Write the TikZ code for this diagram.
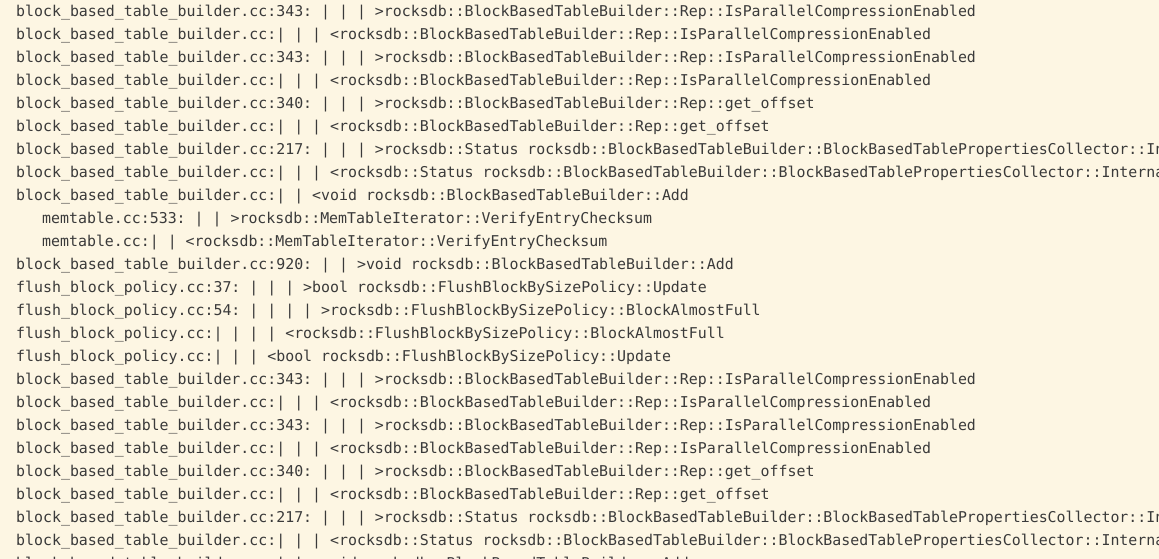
\documentclass[tikz,border=0pt]{standalone}
\usepackage{fontspec}
\setmonofont{DejaVu Sans Mono}
\definecolor{bg}{HTML}{FDF6E3}
\definecolor{fg}{HTML}{3A3A3A}
\begin{document}
\begin{tikzpicture}[x=1pt,y=1pt,ln/.style={anchor=base west,inner sep=0,font=\ttfamily\fontsize{14.9}{16}\selectfont,text=fg}]
\fill[bg] (0,0) rectangle (1159,-559);
\clip (0,0) rectangle (1159,-559);
\def\L#1#2#3#4{\node[ln] (#1) at (#2,{-(#3)-5}) {#4};}
\L{l1}{16}{12}{block\_based\_table\_builder.cc:343: | | | >rocksdb::BlockBasedTableBuilder::Rep::IsParallelCompressionEnabled}
\L{l2}{16}{35}{block\_based\_table\_builder.cc:| | | <rocksdb::BlockBasedTableBuilder::Rep::IsParallelCompressionEnabled}
\L{l3}{16}{58}{block\_based\_table\_builder.cc:343: | | | >rocksdb::BlockBasedTableBuilder::Rep::IsParallelCompressionEnabled}
\L{l4}{16}{81}{block\_based\_table\_builder.cc:| | | <rocksdb::BlockBasedTableBuilder::Rep::IsParallelCompressionEnabled}
\L{l5}{16}{104}{block\_based\_table\_builder.cc:340: | | | >rocksdb::BlockBasedTableBuilder::Rep::get\_offset}
\L{l6}{16}{126.5}{block\_based\_table\_builder.cc:| | | <rocksdb::BlockBasedTableBuilder::Rep::get\_offset}
\L{l7}{16}{149.5}{block\_based\_table\_builder.cc:217: | | | >rocksdb::Status rocksdb::BlockBasedTableBuilder::BlockBasedTablePropertiesCollector::InternalAdd}
\L{l8}{16}{172.5}{block\_based\_table\_builder.cc:| | | <rocksdb::Status rocksdb::BlockBasedTableBuilder::BlockBasedTablePropertiesCollector::InternalAdd}
\L{l9}{16}{195.5}{block\_based\_table\_builder.cc:| | <void rocksdb::BlockBasedTableBuilder::Add}
\L{l10}{42}{218}{memtable.cc:533: | | >rocksdb::MemTableIterator::VerifyEntryChecksum}
\L{l11}{42}{241}{memtable.cc:| | <rocksdb::MemTableIterator::VerifyEntryChecksum}
\L{l12}{16}{264}{block\_based\_table\_builder.cc:920: | | >void rocksdb::BlockBasedTableBuilder::Add}
\L{l13}{16}{287}{flush\_block\_policy.cc:37: | | | >bool rocksdb::FlushBlockBySizePolicy::Update}
\L{l14}{16}{310}{flush\_block\_policy.cc:54: | | | | >rocksdb::FlushBlockBySizePolicy::BlockAlmostFull}
\L{l15}{16}{333}{flush\_block\_policy.cc:| | | | <rocksdb::FlushBlockBySizePolicy::BlockAlmostFull}
\L{l16}{16}{356}{flush\_block\_policy.cc:| | | <bool rocksdb::FlushBlockBySizePolicy::Update}
\L{l17}{16}{379}{block\_based\_table\_builder.cc:343: | | | >rocksdb::BlockBasedTableBuilder::Rep::IsParallelCompressionEnabled}
\L{l18}{16}{402}{block\_based\_table\_builder.cc:| | | <rocksdb::BlockBasedTableBuilder::Rep::IsParallelCompressionEnabled}
\L{l19}{16}{425}{block\_based\_table\_builder.cc:343: | | | >rocksdb::BlockBasedTableBuilder::Rep::IsParallelCompressionEnabled}
\L{l20}{16}{448}{block\_based\_table\_builder.cc:| | | <rocksdb::BlockBasedTableBuilder::Rep::IsParallelCompressionEnabled}
\L{l21}{16}{471}{block\_based\_table\_builder.cc:340: | | | >rocksdb::BlockBasedTableBuilder::Rep::get\_offset}
\L{l22}{16}{494}{block\_based\_table\_builder.cc:| | | <rocksdb::BlockBasedTableBuilder::Rep::get\_offset}
\L{l23}{16}{517}{block\_based\_table\_builder.cc:217: | | | >rocksdb::Status rocksdb::BlockBasedTableBuilder::BlockBasedTablePropertiesCollector::InternalAdd}
\L{l24}{16}{540}{block\_based\_table\_builder.cc:| | | <rocksdb::Status rocksdb::BlockBasedTableBuilder::BlockBasedTablePropertiesCollector::InternalAdd}
\L{l25}{16}{563}{block\_based\_table\_builder.cc:| | <void rocksdb::BlockBasedTableBuilder::Add}
\end{tikzpicture}
\end{document}
